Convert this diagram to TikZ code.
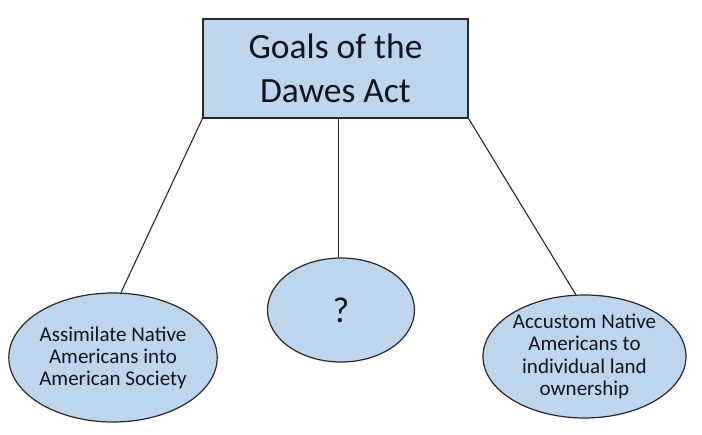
\documentclass[tikz,border=0pt]{standalone}
\usepackage{fontspec}
\setmainfont{Carlito}
\usepackage{xcolor}
\usetikzlibrary{shapes.geometric}

\definecolor{paleblue}{RGB}{189,214,238}
\definecolor{inkline}{RGB}{40,40,44}
\definecolor{inktext}{RGB}{18,20,30}

\begin{document}
\begin{tikzpicture}[
  x=1pt,
  y=-1pt,
  every node/.style={text=inktext},
  goalbox/.style={draw=inkline, fill=paleblue, line width=1.2pt, minimum width=265pt, minimum height=99pt, align=center, inner sep=0pt},
  bubble/.style={ellipse, draw=inkline, fill=paleblue, line width=1.2pt, align=center, inner sep=0pt},
  link/.style={draw=inkline, line width=1.1pt},
]

% Frame.
\useasboundingbox (0,0) rectangle (702,435);

% Title.
\node[goalbox, font=\fontsize{35.5}{44}\selectfont] (goal) at (335.5,68.5) {Goals of the\\Dawes Act};

% Goals.
\node[bubble, minimum width=200pt, minimum height=129pt, font=\fontsize{21}{22}\selectfont] (assim) at (113,357.5) {Assimilate Native\\Americans into\\American Society};
\node[bubble, minimum width=147pt, minimum height=104pt, font=\fontsize{36}{40}\selectfont] (unknown) at (341,310) {?};
\node[bubble, minimum width=203pt, minimum height=123pt, font=\fontsize{21}{22.5}\selectfont] (accustom) at (584.5,356.5) {Accustom Native\\Americans to\\individual land\\ownership};

% Links.
\draw[link] (goal.south west) -- (assim.83);
\draw[link] (goal.south) ++(3,0) coordinate (mid) -- (unknown.north -| mid);
\draw[link] (goal.south east) -- (accustom.98);

\end{tikzpicture}
\end{document}
